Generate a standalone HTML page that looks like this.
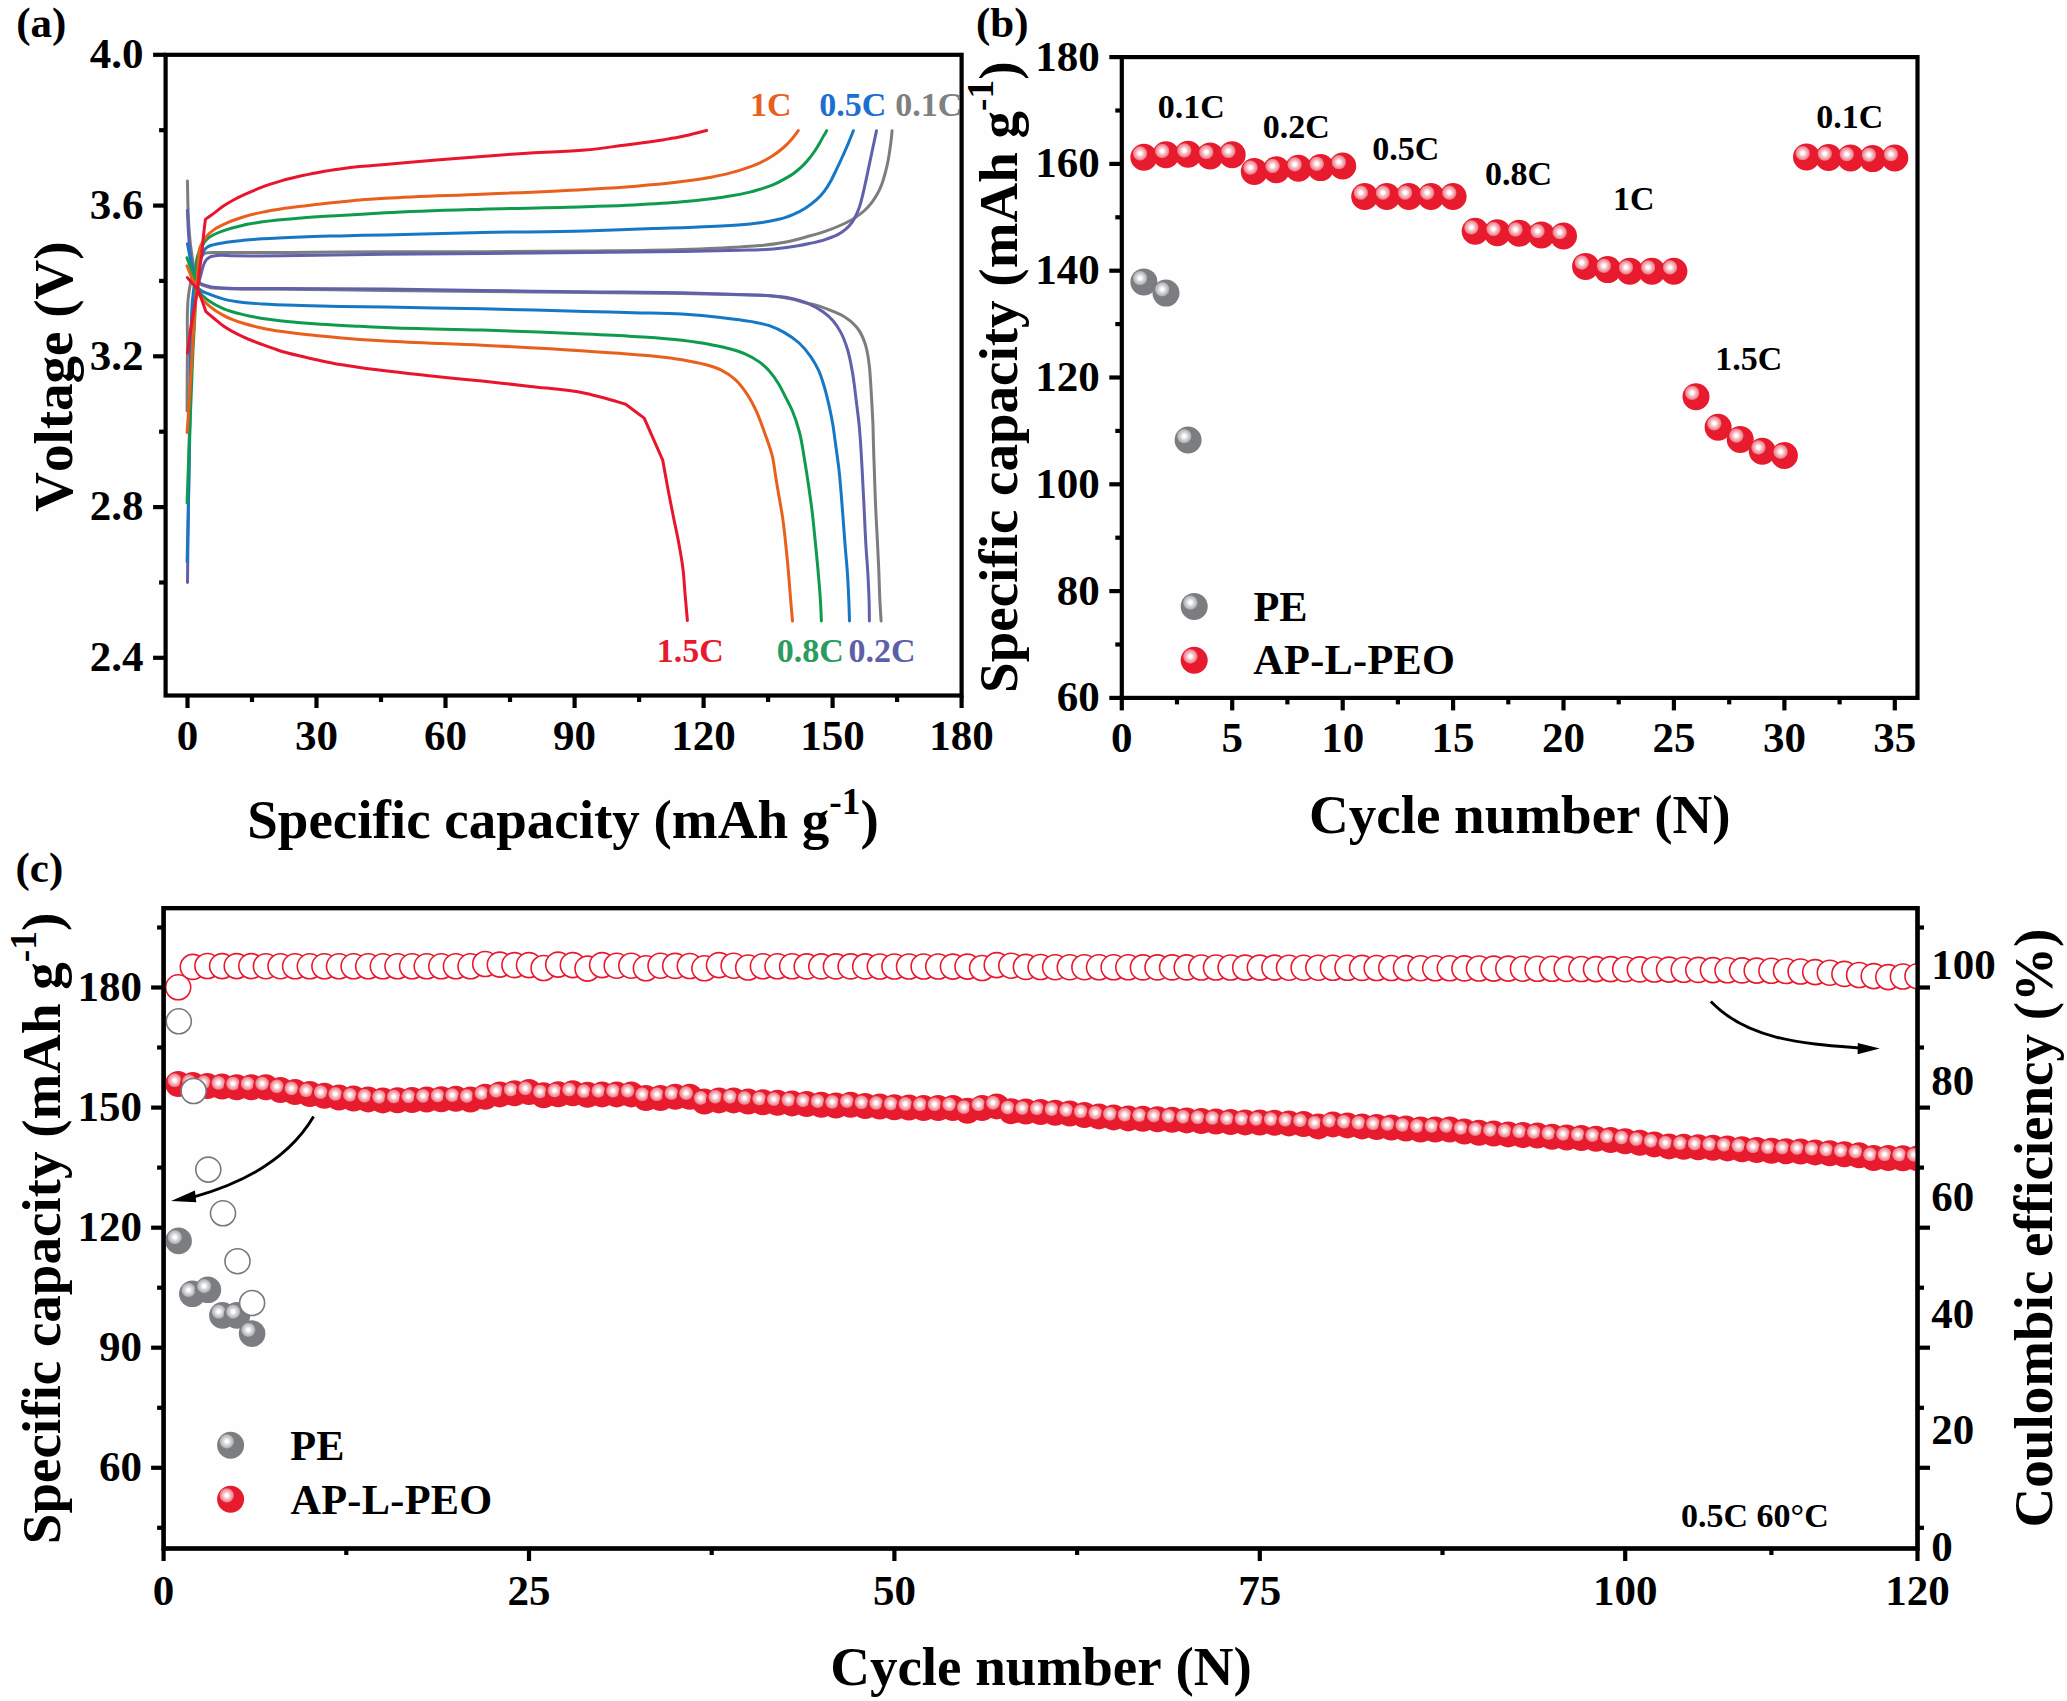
<!DOCTYPE html>
<html lang="en"><head><meta charset="utf-8"><title>Electrochemical performance</title>
<style>html,body{margin:0;padding:0;background:#fff;}svg{display:block;}text{font-family:"Liberation Serif", "DejaVu Serif", serif;font-weight:bold;font-kerning:none;font-variant-ligatures:none;}</style></head><body>
<svg width="2067" height="1701" viewBox="0 0 2067 1701" role="img" aria-label="Electrochemical performance figure">
<defs>
<radialGradient id="gr" cx="0.358" cy="0.358" r="0.275" fx="0.358" fy="0.358"><stop offset="0" stop-color="#ffffff"/><stop offset="0.20" stop-color="#ffffff"/><stop offset="0.38" stop-color="#f9d6da"/><stop offset="0.62" stop-color="#f4aab2"/><stop offset="0.86" stop-color="#ef8791"/><stop offset="0.97" stop-color="#ea4353"/><stop offset="1" stop-color="#e81a2d"/></radialGradient>
<radialGradient id="gg" cx="0.358" cy="0.358" r="0.275" fx="0.358" fy="0.358"><stop offset="0" stop-color="#ffffff"/><stop offset="0.20" stop-color="#ffffff"/><stop offset="0.38" stop-color="#e4e5e6"/><stop offset="0.62" stop-color="#cbcccd"/><stop offset="0.86" stop-color="#b3b5b7"/><stop offset="0.97" stop-color="#8f9193"/><stop offset="1" stop-color="#7b7d80"/></radialGradient>
<clipPath id="clipA"><rect x="165.6" y="54.8" width="793.9" height="640.7"/></clipPath>
<clipPath id="clipC"><rect x="163.6" y="908.1" width="1753.9" height="640.4"/></clipPath>
</defs>
<rect width="2067" height="1701" fill="#fefefe"/>
<g fill="none" stroke-width="3.0" stroke-linecap="round" stroke-linejoin="round">
<path stroke="#7d7d7f" d="M187.4 181.1C187.8 194.1 187.7 207.1 188.5 220.0C189.0 228.3 189.5 236.7 190.5 245.0C191.2 250.7 192.1 256.4 193.0 262.0C193.9 267.4 193.6 273.2 196.0 278.0C196.9 279.9 198.0 282.1 199.5 283.5C201.9 285.8 205.9 286.4 209.2 287.3C213.9 288.5 218.9 288.2 223.8 288.6C243.1 290.0 262.6 289.0 282.0 289.2C316.3 289.6 350.7 290.0 385.0 290.4C417.3 290.8 449.7 291.1 482.0 291.4C516.3 291.8 550.7 292.1 585.0 292.5C617.3 292.8 649.7 292.9 682.0 293.5C698.2 293.8 714.3 294.2 730.5 294.6C743.7 295.0 756.9 294.4 770.0 295.8C777.7 296.6 785.4 297.7 792.9 299.4C797.1 300.3 801.2 301.7 805.3 302.7C809.4 303.7 813.6 304.4 817.6 305.6C821.8 306.8 825.9 308.5 830.0 310.1C834.2 311.8 838.4 313.3 842.3 315.5C845.2 317.2 848.0 319.1 850.5 321.2C852.9 323.2 855.2 325.4 857.1 327.8C859.1 330.3 860.7 333.1 862.1 336.0C863.4 338.7 864.4 341.5 865.3 344.3C866.4 347.8 867.1 351.4 867.8 355.0C868.6 359.1 869.0 363.2 869.5 367.3C870.1 372.8 870.3 378.3 870.7 383.8C871.2 390.6 871.5 397.5 871.9 404.3C872.3 411.3 872.7 418.2 873.0 425.2C873.2 430.8 873.2 436.4 873.4 442.0C873.6 451.0 874.0 460.1 874.3 469.1C874.7 482.0 875.1 495.0 875.7 507.9C876.1 517.6 876.7 527.3 877.2 537.0C877.7 546.7 878.2 556.4 878.6 566.1C879.2 579.0 879.4 592.0 880.1 604.9C880.4 610.3 880.8 615.6 881.1 621.0"/>
<path stroke="#7d7d7f" d="M187.1 411.0C187.2 390.7 187.1 370.3 187.5 350.0C187.9 329.8 185.7 309.2 189.4 289.4C190.6 282.9 191.5 276.1 194.0 270.0C195.4 266.6 197.0 263.1 199.0 260.0C200.3 258.0 201.5 255.7 203.4 254.3C204.0 253.8 204.8 253.4 205.5 253.1C206.4 252.8 207.4 252.8 208.3 252.7C210.5 252.5 212.8 252.6 215.0 252.6C223.3 252.5 231.7 252.6 240.0 252.6C256.7 252.6 273.3 252.5 290.0 252.4C306.7 252.3 323.3 252.0 340.0 251.9C355.0 251.8 370.0 251.8 385.0 251.8C451.7 251.6 518.3 251.9 585.0 251.1C617.3 250.7 649.7 250.6 682.0 249.5C701.4 248.8 720.8 248.1 740.2 246.9C746.8 246.5 753.4 246.2 760.0 245.6C768.3 244.8 776.6 243.9 784.7 242.3C793.0 240.7 801.2 238.3 809.4 236.0C814.9 234.5 820.4 233.0 825.8 231.1C831.4 229.2 837.0 227.0 842.3 224.5C846.5 222.5 850.8 220.4 854.7 217.9C858.1 215.7 861.5 213.3 864.5 210.5C867.2 208.0 869.7 205.2 871.9 202.3C874.1 199.5 876.0 196.4 877.7 193.3C879.3 190.4 880.6 187.3 881.8 184.2C883.1 180.7 884.1 177.1 885.1 173.5C886.2 169.4 887.2 165.3 888.0 161.2C888.8 157.1 889.4 152.9 890.0 148.8C890.5 145.5 890.9 142.2 891.3 138.9C891.6 136.2 891.8 133.4 892.1 130.7"/>
<path stroke="#6160ab" d="M187.4 210.2C187.9 220.1 188.1 230.1 189.0 240.0C189.7 248.4 190.2 256.8 192.0 265.0C193.1 269.7 193.1 275.2 196.0 279.0C197.0 280.3 198.2 281.6 199.5 282.6C202.2 284.7 205.9 285.6 209.2 286.5C213.9 287.8 218.9 287.5 223.8 287.9C243.1 289.4 262.6 288.2 282.0 288.4C316.3 288.7 350.7 288.7 385.0 289.1C417.3 289.4 449.7 290.0 482.0 290.4C516.3 290.9 550.7 291.4 585.0 291.8C617.3 292.2 649.7 292.1 682.0 292.8C698.2 293.2 714.3 293.6 730.5 294.2C740.2 294.5 749.9 294.9 759.6 295.3C763.1 295.4 766.5 295.5 770.0 295.7C776.5 296.1 783.1 296.6 789.4 297.9C796.0 299.3 802.7 301.1 808.8 303.8C813.8 306.0 818.9 308.7 823.3 312.0C826.8 314.6 830.2 317.5 833.0 320.7C836.1 324.2 838.6 328.3 840.8 332.4C843.7 337.8 845.8 343.9 847.6 349.8C849.8 357.0 851.1 364.6 852.4 372.1C854.1 381.7 855.1 391.5 856.3 401.2C857.3 409.3 858.4 417.4 859.2 425.5C859.7 431.0 860.1 436.5 860.5 442.0C861.1 451.0 861.6 460.1 862.1 469.1C862.8 482.0 863.4 495.0 864.1 507.9C864.7 520.8 865.2 533.8 866.0 546.7C866.6 556.4 867.5 566.1 868.0 575.8C868.5 585.5 869.0 595.2 869.2 604.9C869.3 610.3 869.3 615.6 869.4 621.0"/>
<path stroke="#6160ab" d="M187.5 582.4C187.8 554.9 188.1 527.5 188.5 500.0C188.9 466.7 189.3 433.3 190.0 400.0C190.5 373.3 189.4 346.5 192.0 320.0C192.8 311.7 193.1 303.2 195.0 295.0C196.2 289.9 198.1 285.0 199.5 280.0C200.2 277.4 200.8 274.9 201.5 272.3C202.1 270.0 202.5 267.7 203.4 265.5C204.2 263.5 204.9 261.3 206.3 259.7C207.4 258.5 208.8 257.5 210.2 256.8C212.2 255.8 214.7 255.8 217.0 255.5C222.4 254.8 228.0 255.7 233.5 255.8C249.7 256.0 265.8 255.9 282.0 255.8C316.3 255.6 350.7 254.7 385.0 254.3C451.7 253.5 518.3 253.3 585.0 252.6C617.3 252.2 649.7 251.9 682.0 251.4C701.4 251.1 720.8 250.8 740.2 250.3C746.8 250.1 753.4 250.1 760.0 249.8C768.2 249.4 776.5 248.7 784.7 247.7C793.0 246.6 801.3 245.3 809.4 243.5C814.9 242.3 820.5 241.1 825.8 239.3C830.0 237.9 834.4 236.6 838.2 234.4C841.1 232.8 843.9 230.8 846.4 228.6C848.5 226.7 850.5 224.5 852.2 222.1C853.8 219.8 855.1 217.2 856.3 214.7C857.6 212.0 858.6 209.2 859.6 206.4C861.0 202.4 861.9 198.2 862.9 194.1C864.1 189.2 865.1 184.2 866.2 179.3C867.3 174.1 868.4 168.8 869.5 163.6C870.6 158.4 871.7 153.2 872.8 148.0C874.0 142.2 875.3 136.5 876.5 130.7"/>
<path stroke="#1677c4" d="M187.4 243.7C188.6 249.8 189.7 255.9 191.0 262.0C192.3 268.0 193.1 274.2 195.0 280.0C195.8 282.4 196.3 284.9 197.6 287.0C198.2 287.8 198.8 288.7 199.5 289.4C202.0 292.0 205.9 292.8 209.2 294.2C213.9 296.2 218.9 297.8 223.8 299.1C230.1 300.8 236.7 301.7 243.2 302.5C249.6 303.3 256.1 303.5 262.6 303.9C275.5 304.7 288.5 305.0 301.4 305.4C314.3 305.8 327.3 306.1 340.2 306.4C355.1 306.7 370.1 306.9 385.0 307.1C417.3 307.6 449.7 308.1 482.0 308.8C516.3 309.5 550.7 310.5 585.0 311.4C601.2 311.8 617.3 312.3 633.5 312.7C649.7 313.2 665.9 313.1 682.0 314.1C695.0 314.9 707.9 316.0 720.8 317.5C730.5 318.6 740.3 319.6 749.9 321.4C756.6 322.7 763.6 323.6 770.0 325.9C775.0 327.7 779.9 330.0 784.5 332.6C789.7 335.6 794.7 339.0 799.1 343.0C803.5 347.0 807.3 351.7 810.7 356.6C813.7 360.9 816.3 365.5 818.5 370.2C820.9 375.5 822.6 381.1 824.3 386.7C826.2 393.1 827.7 399.6 829.2 406.1C830.6 412.5 831.9 419.0 833.0 425.5C833.8 430.3 834.3 435.2 835.0 440.0C836.3 449.7 837.8 459.4 838.9 469.1C840.4 482.0 841.2 495.0 842.3 507.9C843.3 520.8 844.2 533.8 845.2 546.7C846.0 556.4 847.0 566.1 847.6 575.8C848.2 585.5 848.6 595.2 849.0 604.9C849.2 610.3 849.3 615.6 849.5 621.0"/>
<path stroke="#1677c4" d="M187.1 561.7C187.6 541.1 188.1 520.6 188.5 500.0C189.1 473.3 189.6 446.7 190.0 420.0C190.4 396.7 190.5 373.3 191.0 350.0C191.4 333.3 190.8 316.6 192.5 300.0C193.4 291.6 194.2 283.2 196.0 275.0C197.0 270.6 198.0 266.2 199.5 262.0C200.5 259.2 201.8 256.5 202.9 253.8C203.4 252.5 203.7 251.1 204.4 250.0C205.1 248.9 206.2 247.9 207.3 247.1C209.2 245.7 211.8 245.3 214.1 244.6C217.3 243.7 220.6 243.3 223.8 242.7C230.2 241.6 236.7 241.0 243.2 240.3C249.7 239.7 256.1 239.2 262.6 238.8C275.5 237.9 288.5 237.4 301.4 236.9C314.3 236.4 327.3 236.2 340.2 235.9C355.1 235.5 370.1 235.2 385.0 234.9C417.3 234.2 449.7 233.1 482.0 232.5C516.3 231.8 550.7 231.9 585.0 231.0C607.6 230.4 630.3 229.4 652.9 228.6C672.3 227.9 691.7 227.4 711.1 226.4C724.0 225.7 737.0 225.4 749.9 224.0C753.9 223.6 758.0 223.1 762.0 222.5C766.9 221.8 771.7 220.9 776.5 219.8C779.3 219.1 782.2 218.5 785.0 217.6C787.7 216.7 790.3 215.7 792.9 214.6C797.2 212.8 801.4 210.7 805.3 208.2C809.1 205.8 812.7 203.2 816.0 200.2C819.0 197.5 821.8 194.6 824.2 191.4C826.7 188.1 828.8 184.5 830.8 180.9C832.9 177.2 834.6 173.3 836.5 169.4C838.5 165.3 840.4 161.2 842.3 157.0C844.3 152.7 846.2 148.3 848.1 143.9C849.9 139.5 851.6 135.1 853.4 130.7"/>
<path stroke="#0f9b4e" d="M187.0 257.7C188.7 262.5 190.4 267.2 192.0 272.0C193.9 277.8 194.5 284.2 197.6 289.4C198.2 290.4 198.8 291.4 199.5 292.3C202.1 295.8 205.7 298.5 209.2 301.0C213.6 304.2 218.7 306.7 223.8 308.8C230.0 311.4 236.7 313.0 243.2 314.6C249.6 316.2 256.1 317.4 262.6 318.5C269.0 319.5 275.5 320.2 282.0 320.9C294.9 322.3 307.9 323.4 320.8 324.3C333.7 325.2 346.7 325.7 359.6 326.3C368.1 326.7 376.5 327.1 385.0 327.5C417.3 328.9 449.7 329.1 482.0 330.1C516.3 331.2 550.7 332.4 585.0 334.0C601.2 334.7 617.3 335.4 633.5 336.4C649.7 337.5 665.9 338.3 682.0 340.3C691.7 341.5 701.5 342.8 711.1 344.7C717.6 346.0 724.1 347.2 730.5 349.0C735.4 350.4 740.4 351.9 745.0 353.9C750.1 356.1 755.1 358.8 759.6 362.1C763.1 364.7 766.4 367.7 769.3 370.9C773.0 375.0 776.2 379.7 779.0 384.4C781.2 388.1 783.0 392.2 785.0 396.1C787.6 401.2 790.4 406.2 792.6 411.5C795.4 418.1 797.6 425.1 799.4 432.0C801.7 440.6 802.8 449.4 804.3 458.2C805.8 467.1 807.2 476.1 808.5 485.0C809.6 492.6 810.7 500.3 811.7 507.9C813.3 520.6 814.4 533.3 815.7 546.0C816.7 555.9 817.7 565.9 818.5 575.8C819.2 583.9 819.9 591.9 820.4 600.0C820.8 607.0 821.1 614.0 821.4 621.0"/>
<path stroke="#0f9b4e" d="M187.1 503.0C187.7 485.3 188.3 467.7 189.0 450.0C189.6 433.3 190.3 416.7 191.0 400.0C191.7 383.3 192.2 366.7 193.0 350.0C193.5 340.0 194.2 330.0 194.7 320.0C195.1 310.0 195.5 300.0 195.7 290.0C195.9 281.8 195.0 273.6 196.0 265.5C196.4 262.3 196.6 258.9 197.6 255.8C198.5 253.1 200.2 250.6 201.5 248.0C202.5 246.1 203.2 244.0 204.4 242.2C205.2 241.0 206.2 239.8 207.3 238.8C209.2 237.0 211.7 235.7 214.1 234.5C217.2 232.9 220.5 231.8 223.8 230.6C230.1 228.3 236.7 226.7 243.2 225.2C249.6 223.8 256.1 222.8 262.6 221.8C275.4 219.9 288.4 219.1 301.4 218.0C314.3 217.0 327.3 216.3 340.2 215.5C355.1 214.6 370.1 213.6 385.0 212.8C417.3 211.1 449.7 210.2 482.0 209.2C516.3 208.2 550.7 208.0 585.0 206.8C601.2 206.2 617.3 205.7 633.5 204.9C649.7 204.1 665.9 203.3 682.0 201.8C695.0 200.6 707.9 199.4 720.8 197.4C730.5 195.9 740.4 194.6 749.9 192.1C753.3 191.2 756.6 190.2 760.0 189.2C764.1 187.9 768.3 186.8 772.3 185.2C776.6 183.4 780.7 181.2 784.7 178.9C788.1 177.0 791.5 175.0 794.6 172.7C797.5 170.6 800.2 168.2 802.8 165.7C805.2 163.4 807.3 160.9 809.4 158.3C811.4 155.8 813.3 153.2 815.1 150.5C816.9 147.8 818.5 145.0 820.1 142.2C821.4 140.0 822.5 137.8 823.8 135.6C824.8 134.0 825.7 132.3 826.7 130.7"/>
<path stroke="#e9601c" d="M187.0 266.0C188.7 270.0 190.2 274.1 192.0 278.0C193.7 281.9 196.1 285.4 197.6 289.4C198.3 291.3 198.6 293.4 199.5 295.2C201.5 299.5 205.6 302.7 209.2 305.9C213.5 309.7 218.7 312.9 223.8 315.6C229.9 318.9 236.6 321.2 243.2 323.3C249.5 325.3 256.1 326.8 262.6 328.2C269.0 329.6 275.5 330.6 282.0 331.6C294.9 333.6 307.9 334.7 320.8 336.0C333.7 337.3 346.7 338.5 359.6 339.4C368.1 340.0 376.5 340.5 385.0 341.0C417.3 342.9 449.7 343.6 482.0 345.2C516.3 346.9 550.7 348.7 585.0 351.0C601.2 352.1 617.4 353.0 633.5 354.4C646.4 355.5 659.4 356.4 672.3 358.3C682.0 359.7 691.9 361.1 701.4 363.6C708.0 365.3 714.8 366.9 720.8 369.9C726.0 372.5 731.1 375.7 735.3 379.6C739.0 383.0 742.1 387.1 745.0 391.2C748.7 396.4 751.8 402.0 754.7 407.7C759.1 416.4 762.1 425.7 765.4 434.9C767.9 441.9 770.5 448.8 772.3 456.0C774.1 463.5 774.7 471.2 776.0 478.8C777.0 484.9 778.1 490.9 779.1 497.0C780.3 503.9 781.6 510.7 782.6 517.6C783.7 525.0 784.5 532.5 785.3 540.0C786.2 548.3 787.0 556.6 787.8 564.9C788.8 575.9 789.6 587.0 790.5 598.0C791.1 605.7 791.8 613.3 792.5 621.0"/>
<path stroke="#e9601c" d="M187.1 432.4C188.1 418.3 189.1 404.1 190.0 390.0C191.1 373.3 191.9 356.7 193.0 340.0C193.9 326.3 194.7 312.7 195.7 299.0C196.3 291.0 196.9 283.0 197.5 275.0C197.9 270.2 198.2 265.4 198.6 260.6C198.9 256.7 198.4 252.7 199.5 249.0C200.2 246.7 201.3 244.4 202.5 242.2C203.8 239.8 205.5 237.4 207.3 235.4C209.3 233.2 211.7 231.3 214.1 229.6C217.1 227.5 220.5 225.9 223.8 224.3C230.0 221.3 236.6 219.1 243.2 217.0C249.6 215.0 256.1 213.5 262.6 212.1C269.0 210.7 275.5 209.7 282.0 208.7C288.4 207.7 294.9 207.1 301.4 206.3C307.9 205.5 314.3 204.6 320.8 203.9C327.3 203.2 333.7 202.6 340.2 202.0C346.7 201.3 353.1 200.6 359.6 200.0C368.1 199.3 376.5 198.8 385.0 198.3C417.3 196.3 449.7 195.6 482.0 194.2C516.3 192.7 550.7 191.4 585.0 189.4C601.2 188.5 617.4 187.7 633.5 186.4C649.7 185.1 665.9 183.7 682.0 181.6C691.7 180.3 701.5 179.1 711.1 177.2C717.6 175.9 724.1 174.6 730.5 172.9C737.0 171.2 743.5 169.1 749.9 166.8C753.3 165.6 756.7 164.3 760.0 162.8C764.2 160.8 768.4 158.5 772.3 156.0C776.0 153.6 779.6 150.9 783.0 148.0C785.9 145.5 788.7 142.7 791.3 139.8C793.8 136.9 796.0 133.7 798.3 130.7"/>
<path stroke="#e8152d" d="M187.4 277.6C188.9 279.4 190.5 281.2 192.0 283.0C193.9 285.1 196.1 287.1 197.6 289.4C200.1 293.1 200.9 297.8 202.5 302.0C203.7 305.2 204.8 308.5 205.9 311.7C208.6 314.0 211.4 316.3 214.1 318.5C217.3 321.1 220.4 323.9 223.8 326.3C229.8 330.5 236.5 333.8 243.2 336.9C249.5 339.9 256.1 342.2 262.6 344.7C269.0 347.1 275.4 349.5 282.0 351.5C288.4 353.4 294.9 354.8 301.4 356.3C307.9 357.8 314.3 359.3 320.8 360.7C327.2 362.1 333.7 363.5 340.2 364.6C346.6 365.7 353.1 366.6 359.6 367.5C368.1 368.7 376.5 369.7 385.0 370.7C401.2 372.7 417.3 374.5 433.5 376.2C449.7 377.9 465.8 379.4 482.0 381.1C498.2 382.8 514.3 384.5 530.5 386.4C548.7 388.5 567.1 389.4 585.0 393.2C591.5 394.6 598.0 396.3 604.4 398.0C611.5 399.9 618.6 402.2 625.7 404.3C631.9 408.9 638.0 413.5 644.2 418.1C650.4 432.1 656.5 446.1 662.7 460.1C664.6 470.8 666.5 481.5 668.5 492.1C670.4 501.8 672.3 511.5 674.3 521.2C675.6 527.5 677.0 533.7 678.2 540.0C680.0 549.7 681.8 559.3 683.0 569.1C684.0 577.1 684.3 585.2 685.0 593.3C685.8 602.4 686.6 611.4 687.4 620.5"/>
<path stroke="#e8152d" d="M187.5 353.0C188.5 345.3 189.4 337.6 190.6 330.0C191.6 323.3 192.9 316.7 194.0 310.0C195.2 303.1 196.7 296.3 197.6 289.4C198.5 283.0 198.7 276.4 199.5 270.0C200.1 265.3 200.9 260.5 201.5 255.8C202.3 249.4 202.7 242.9 203.4 236.4C204.0 230.7 204.7 225.1 205.4 219.4C208.3 217.3 211.2 215.2 214.1 213.1C217.4 210.7 220.4 208.0 223.8 205.8C226.9 203.7 230.2 201.8 233.5 200.0C236.7 198.3 239.9 196.7 243.2 195.2C249.6 192.2 256.0 189.4 262.6 186.9C269.0 184.5 275.5 182.5 282.0 180.6C288.4 178.8 294.9 177.3 301.4 175.8C307.8 174.4 314.3 173.0 320.8 171.9C327.2 170.8 333.7 169.9 340.2 169.0C346.7 168.1 353.1 167.3 359.6 166.6C368.0 165.7 376.5 165.1 385.0 164.4C401.2 163.0 417.3 161.6 433.5 160.3C449.7 159.0 465.8 157.6 482.0 156.4C498.2 155.2 514.3 154.0 530.5 153.0C548.7 151.9 566.9 151.8 585.0 150.1C598.0 148.9 610.9 146.9 623.8 145.2C636.7 143.5 649.7 142.0 662.6 139.9C669.1 138.8 675.6 137.8 682.0 136.5C690.3 134.8 698.5 132.5 706.7 130.5"/>
</g>
<text x="750.0" y="115.6" font-size="34.0" text-anchor="start" fill="#e8601f">1C</text>
<text x="819.3" y="115.6" font-size="34.0" text-anchor="start" fill="#1b6fd0">0.5C</text>
<g clip-path="url(#clipA)">
<text x="895.2" y="115.6" font-size="34.0" text-anchor="start" fill="#808080">0.1C</text>
</g>
<text x="656.8" y="662.0" font-size="34.0" text-anchor="start" fill="#e8192f">1.5C</text>
<text x="776.8" y="662.0" font-size="34.0" text-anchor="start" fill="#2a9c5f">0.8C</text>
<text x="848.6" y="662.0" font-size="34.0" text-anchor="start" fill="#5d5fa8">0.2C</text>
<rect x="165.6" y="54.8" width="796.0" height="640.7" fill="none" stroke="#000" stroke-width="4.2"/>
<path d="M187.5 695.5L187.5 708.0" stroke="#000" stroke-width="4.2" fill="none"/>
<text x="187.5" y="750.4" font-size="43.0" text-anchor="middle" fill="#000">0</text>
<path d="M316.5 695.5L316.5 708.0" stroke="#000" stroke-width="4.2" fill="none"/>
<text x="316.5" y="750.4" font-size="43.0" text-anchor="middle" fill="#000">30</text>
<path d="M445.5 695.5L445.5 708.0" stroke="#000" stroke-width="4.2" fill="none"/>
<text x="445.5" y="750.4" font-size="43.0" text-anchor="middle" fill="#000">60</text>
<path d="M574.6 695.5L574.6 708.0" stroke="#000" stroke-width="4.2" fill="none"/>
<text x="574.6" y="750.4" font-size="43.0" text-anchor="middle" fill="#000">90</text>
<path d="M703.6 695.5L703.6 708.0" stroke="#000" stroke-width="4.2" fill="none"/>
<text x="703.6" y="750.4" font-size="43.0" text-anchor="middle" fill="#000">120</text>
<path d="M832.6 695.5L832.6 708.0" stroke="#000" stroke-width="4.2" fill="none"/>
<text x="832.6" y="750.4" font-size="43.0" text-anchor="middle" fill="#000">150</text>
<path d="M961.6 695.5L961.6 708.0" stroke="#000" stroke-width="4.2" fill="none"/>
<text x="961.6" y="750.4" font-size="43.0" text-anchor="middle" fill="#000">180</text>
<path d="M252.0 695.5L252.0 702.0" stroke="#000" stroke-width="4.2" fill="none"/>
<path d="M381.0 695.5L381.0 702.0" stroke="#000" stroke-width="4.2" fill="none"/>
<path d="M510.0 695.5L510.0 702.0" stroke="#000" stroke-width="4.2" fill="none"/>
<path d="M639.1 695.5L639.1 702.0" stroke="#000" stroke-width="4.2" fill="none"/>
<path d="M768.1 695.5L768.1 702.0" stroke="#000" stroke-width="4.2" fill="none"/>
<path d="M897.1 695.5L897.1 702.0" stroke="#000" stroke-width="4.2" fill="none"/>
<path d="M165.6 657.8L153.1 657.8" stroke="#000" stroke-width="4.2" fill="none"/>
<text x="143.6" y="671.1" font-size="43.0" text-anchor="end" fill="#000">2.4</text>
<path d="M165.6 507.1L153.1 507.1" stroke="#000" stroke-width="4.2" fill="none"/>
<text x="143.6" y="520.4" font-size="43.0" text-anchor="end" fill="#000">2.8</text>
<path d="M165.6 356.3L153.1 356.3" stroke="#000" stroke-width="4.2" fill="none"/>
<text x="143.6" y="369.6" font-size="43.0" text-anchor="end" fill="#000">3.2</text>
<path d="M165.6 205.6L153.1 205.6" stroke="#000" stroke-width="4.2" fill="none"/>
<text x="143.6" y="218.9" font-size="43.0" text-anchor="end" fill="#000">3.6</text>
<path d="M165.6 54.8L153.1 54.8" stroke="#000" stroke-width="4.2" fill="none"/>
<text x="143.6" y="68.1" font-size="43.0" text-anchor="end" fill="#000">4.0</text>
<path d="M165.6 582.5L159.1 582.5" stroke="#000" stroke-width="4.2" fill="none"/>
<path d="M165.6 431.7L159.1 431.7" stroke="#000" stroke-width="4.2" fill="none"/>
<path d="M165.6 280.9L159.1 280.9" stroke="#000" stroke-width="4.2" fill="none"/>
<path d="M165.6 130.2L159.1 130.2" stroke="#000" stroke-width="4.2" fill="none"/>
<text x="563.0" y="837.8" font-size="55.0" text-anchor="middle" fill="#000">Specific capacity (mAh g<tspan dy="-23.6" font-size="37.4">-1</tspan><tspan dy="23.6">)</tspan></text>
<g transform="translate(72.3 376.6) rotate(-90)">
<text x="0.0" y="0.0" font-size="55.0" text-anchor="middle" fill="#000">Voltage (V)</text>
</g>
<text x="16.2" y="37.1" font-size="43.0" text-anchor="start" fill="#000">(a)</text>
<rect x="1121.8" y="57.1" width="795.7" height="640.8" fill="none" stroke="#000" stroke-width="4.2"/>
<path d="M1121.8 697.9L1121.8 710.4" stroke="#000" stroke-width="4.2" fill="none"/>
<text x="1121.8" y="752.2" font-size="43.0" text-anchor="middle" fill="#000">0</text>
<path d="M1232.2 697.9L1232.2 710.4" stroke="#000" stroke-width="4.2" fill="none"/>
<text x="1232.2" y="752.2" font-size="43.0" text-anchor="middle" fill="#000">5</text>
<path d="M1342.7 697.9L1342.7 710.4" stroke="#000" stroke-width="4.2" fill="none"/>
<text x="1342.7" y="752.2" font-size="43.0" text-anchor="middle" fill="#000">10</text>
<path d="M1453.1 697.9L1453.1 710.4" stroke="#000" stroke-width="4.2" fill="none"/>
<text x="1453.1" y="752.2" font-size="43.0" text-anchor="middle" fill="#000">15</text>
<path d="M1563.5 697.9L1563.5 710.4" stroke="#000" stroke-width="4.2" fill="none"/>
<text x="1563.5" y="752.2" font-size="43.0" text-anchor="middle" fill="#000">20</text>
<path d="M1673.9 697.9L1673.9 710.4" stroke="#000" stroke-width="4.2" fill="none"/>
<text x="1673.9" y="752.2" font-size="43.0" text-anchor="middle" fill="#000">25</text>
<path d="M1784.4 697.9L1784.4 710.4" stroke="#000" stroke-width="4.2" fill="none"/>
<text x="1784.4" y="752.2" font-size="43.0" text-anchor="middle" fill="#000">30</text>
<path d="M1894.8 697.9L1894.8 710.4" stroke="#000" stroke-width="4.2" fill="none"/>
<text x="1894.8" y="752.2" font-size="43.0" text-anchor="middle" fill="#000">35</text>
<path d="M1177.0 697.9L1177.0 704.4" stroke="#000" stroke-width="4.2" fill="none"/>
<path d="M1287.4 697.9L1287.4 704.4" stroke="#000" stroke-width="4.2" fill="none"/>
<path d="M1397.9 697.9L1397.9 704.4" stroke="#000" stroke-width="4.2" fill="none"/>
<path d="M1508.3 697.9L1508.3 704.4" stroke="#000" stroke-width="4.2" fill="none"/>
<path d="M1618.7 697.9L1618.7 704.4" stroke="#000" stroke-width="4.2" fill="none"/>
<path d="M1729.2 697.9L1729.2 704.4" stroke="#000" stroke-width="4.2" fill="none"/>
<path d="M1839.6 697.9L1839.6 704.4" stroke="#000" stroke-width="4.2" fill="none"/>
<path d="M1121.8 697.9L1109.3 697.9" stroke="#000" stroke-width="4.2" fill="none"/>
<text x="1099.8" y="711.3" font-size="43.0" text-anchor="end" fill="#000">60</text>
<path d="M1121.8 591.1L1109.3 591.1" stroke="#000" stroke-width="4.2" fill="none"/>
<text x="1099.8" y="604.5" font-size="43.0" text-anchor="end" fill="#000">80</text>
<path d="M1121.8 484.3L1109.3 484.3" stroke="#000" stroke-width="4.2" fill="none"/>
<text x="1099.8" y="497.7" font-size="43.0" text-anchor="end" fill="#000">100</text>
<path d="M1121.8 377.5L1109.3 377.5" stroke="#000" stroke-width="4.2" fill="none"/>
<text x="1099.8" y="390.9" font-size="43.0" text-anchor="end" fill="#000">120</text>
<path d="M1121.8 270.7L1109.3 270.7" stroke="#000" stroke-width="4.2" fill="none"/>
<text x="1099.8" y="284.1" font-size="43.0" text-anchor="end" fill="#000">140</text>
<path d="M1121.8 163.9L1109.3 163.9" stroke="#000" stroke-width="4.2" fill="none"/>
<text x="1099.8" y="177.3" font-size="43.0" text-anchor="end" fill="#000">160</text>
<path d="M1121.8 57.1L1109.3 57.1" stroke="#000" stroke-width="4.2" fill="none"/>
<text x="1099.8" y="70.5" font-size="43.0" text-anchor="end" fill="#000">180</text>
<path d="M1121.8 644.5L1115.3 644.5" stroke="#000" stroke-width="4.2" fill="none"/>
<path d="M1121.8 537.7L1115.3 537.7" stroke="#000" stroke-width="4.2" fill="none"/>
<path d="M1121.8 430.9L1115.3 430.9" stroke="#000" stroke-width="4.2" fill="none"/>
<path d="M1121.8 324.1L1115.3 324.1" stroke="#000" stroke-width="4.2" fill="none"/>
<path d="M1121.8 217.3L1115.3 217.3" stroke="#000" stroke-width="4.2" fill="none"/>
<path d="M1121.8 110.5L1115.3 110.5" stroke="#000" stroke-width="4.2" fill="none"/>
<circle cx="1143.9" cy="281.9" r="13.5" fill="url(#gg)"/>
<circle cx="1166.0" cy="293.1" r="13.5" fill="url(#gg)"/>
<circle cx="1188.1" cy="440.0" r="13.5" fill="url(#gg)"/>
<circle cx="1143.9" cy="157.2" r="13.5" fill="url(#gr)"/>
<circle cx="1166.0" cy="154.8" r="13.5" fill="url(#gr)"/>
<circle cx="1188.1" cy="154.3" r="13.5" fill="url(#gr)"/>
<circle cx="1210.1" cy="155.9" r="13.5" fill="url(#gr)"/>
<circle cx="1232.2" cy="154.8" r="13.5" fill="url(#gr)"/>
<circle cx="1254.3" cy="171.4" r="13.5" fill="url(#gr)"/>
<circle cx="1276.4" cy="169.8" r="13.5" fill="url(#gr)"/>
<circle cx="1298.5" cy="168.2" r="13.5" fill="url(#gr)"/>
<circle cx="1320.6" cy="167.6" r="13.5" fill="url(#gr)"/>
<circle cx="1342.7" cy="166.0" r="13.5" fill="url(#gr)"/>
<circle cx="1364.7" cy="196.5" r="13.5" fill="url(#gr)"/>
<circle cx="1386.8" cy="196.5" r="13.5" fill="url(#gr)"/>
<circle cx="1408.9" cy="196.5" r="13.5" fill="url(#gr)"/>
<circle cx="1431.0" cy="196.5" r="13.5" fill="url(#gr)"/>
<circle cx="1453.1" cy="196.5" r="13.5" fill="url(#gr)"/>
<circle cx="1475.2" cy="231.2" r="13.5" fill="url(#gr)"/>
<circle cx="1497.3" cy="232.8" r="13.5" fill="url(#gr)"/>
<circle cx="1519.3" cy="233.3" r="13.5" fill="url(#gr)"/>
<circle cx="1541.4" cy="234.9" r="13.5" fill="url(#gr)"/>
<circle cx="1563.5" cy="236.0" r="13.5" fill="url(#gr)"/>
<circle cx="1585.6" cy="266.4" r="13.5" fill="url(#gr)"/>
<circle cx="1607.7" cy="269.6" r="13.5" fill="url(#gr)"/>
<circle cx="1629.8" cy="271.2" r="13.5" fill="url(#gr)"/>
<circle cx="1651.9" cy="271.2" r="13.5" fill="url(#gr)"/>
<circle cx="1673.9" cy="271.2" r="13.5" fill="url(#gr)"/>
<circle cx="1696.0" cy="396.7" r="13.5" fill="url(#gr)"/>
<circle cx="1718.1" cy="427.2" r="13.5" fill="url(#gr)"/>
<circle cx="1740.2" cy="439.4" r="13.5" fill="url(#gr)"/>
<circle cx="1762.3" cy="451.2" r="13.5" fill="url(#gr)"/>
<circle cx="1784.4" cy="455.5" r="13.5" fill="url(#gr)"/>
<circle cx="1806.5" cy="157.0" r="13.5" fill="url(#gr)"/>
<circle cx="1828.6" cy="157.5" r="13.5" fill="url(#gr)"/>
<circle cx="1850.6" cy="158.0" r="13.5" fill="url(#gr)"/>
<circle cx="1872.7" cy="158.6" r="13.5" fill="url(#gr)"/>
<circle cx="1894.8" cy="158.0" r="13.5" fill="url(#gr)"/>
<circle cx="1194.2" cy="606.4" r="13.5" fill="url(#gg)"/>
<circle cx="1194.2" cy="660.2" r="13.5" fill="url(#gr)"/>
<text x="1253.4" y="620.6" font-size="42.3" text-anchor="start" fill="#000">PE</text>
<text x="1253.2" y="674.4" font-size="42.3" text-anchor="start" fill="#000" letter-spacing="0.3">AP-L-PEO</text>
<text x="1157.8" y="118.4" font-size="34.0" text-anchor="start" fill="#000">0.1C</text>
<text x="1262.8" y="138.3" font-size="34.0" text-anchor="start" fill="#000">0.2C</text>
<text x="1372.2" y="159.6" font-size="34.0" text-anchor="start" fill="#000">0.5C</text>
<text x="1485.0" y="185.2" font-size="34.0" text-anchor="start" fill="#000">0.8C</text>
<text x="1612.9" y="209.9" font-size="34.0" text-anchor="start" fill="#000">1C</text>
<text x="1715.3" y="369.6" font-size="34.0" text-anchor="start" fill="#000">1.5C</text>
<text x="1816.3" y="128.3" font-size="34.0" text-anchor="start" fill="#000">0.1C</text>
<text x="1519.8" y="832.7" font-size="55.0" text-anchor="middle" fill="#000">Cycle number (N)</text>
<g transform="translate(1016.6 377.2) rotate(-90)">
<text x="0.0" y="0.0" font-size="55.0" text-anchor="middle" fill="#000">Specific capacity (mAh g<tspan dy="-23.6" font-size="37.4">-1</tspan><tspan dy="23.6">)</tspan></text>
</g>
<text x="976.0" y="36.7" font-size="43.0" text-anchor="start" fill="#000">(b)</text>
<rect x="163.6" y="908.1" width="1753.9" height="640.4" fill="none" stroke="#000" stroke-width="4.2"/>
<path d="M163.6 1548.5L163.6 1561.0" stroke="#000" stroke-width="4.2" fill="none"/>
<text x="163.6" y="1605.2" font-size="43.0" text-anchor="middle" fill="#000">0</text>
<path d="M529.0 1548.5L529.0 1561.0" stroke="#000" stroke-width="4.2" fill="none"/>
<text x="529.0" y="1605.2" font-size="43.0" text-anchor="middle" fill="#000">25</text>
<path d="M894.4 1548.5L894.4 1561.0" stroke="#000" stroke-width="4.2" fill="none"/>
<text x="894.4" y="1605.2" font-size="43.0" text-anchor="middle" fill="#000">50</text>
<path d="M1259.8 1548.5L1259.8 1561.0" stroke="#000" stroke-width="4.2" fill="none"/>
<text x="1259.8" y="1605.2" font-size="43.0" text-anchor="middle" fill="#000">75</text>
<path d="M1625.2 1548.5L1625.2 1561.0" stroke="#000" stroke-width="4.2" fill="none"/>
<text x="1625.2" y="1605.2" font-size="43.0" text-anchor="middle" fill="#000">100</text>
<path d="M1917.5 1548.5L1917.5 1561.0" stroke="#000" stroke-width="4.2" fill="none"/>
<text x="1917.5" y="1605.2" font-size="43.0" text-anchor="middle" fill="#000">120</text>
<path d="M346.3 1548.5L346.3 1555.0" stroke="#000" stroke-width="4.2" fill="none"/>
<path d="M711.7 1548.5L711.7 1555.0" stroke="#000" stroke-width="4.2" fill="none"/>
<path d="M1077.1 1548.5L1077.1 1555.0" stroke="#000" stroke-width="4.2" fill="none"/>
<path d="M1442.5 1548.5L1442.5 1555.0" stroke="#000" stroke-width="4.2" fill="none"/>
<path d="M1771.4 1548.5L1771.4 1555.0" stroke="#000" stroke-width="4.2" fill="none"/>
<path d="M163.6 1467.8L151.1 1467.8" stroke="#000" stroke-width="4.2" fill="none"/>
<path d="M1917.5 1467.8L1930.0 1467.8" stroke="#000" stroke-width="4.2" fill="none"/>
<text x="142.0" y="1481.2" font-size="43.0" text-anchor="end" fill="#000">60</text>
<path d="M163.6 1347.7L151.1 1347.7" stroke="#000" stroke-width="4.2" fill="none"/>
<path d="M1917.5 1347.7L1930.0 1347.7" stroke="#000" stroke-width="4.2" fill="none"/>
<text x="142.0" y="1361.1" font-size="43.0" text-anchor="end" fill="#000">90</text>
<path d="M163.6 1227.7L151.1 1227.7" stroke="#000" stroke-width="4.2" fill="none"/>
<path d="M1917.5 1227.7L1930.0 1227.7" stroke="#000" stroke-width="4.2" fill="none"/>
<text x="142.0" y="1241.1" font-size="43.0" text-anchor="end" fill="#000">120</text>
<path d="M163.6 1107.6L151.1 1107.6" stroke="#000" stroke-width="4.2" fill="none"/>
<path d="M1917.5 1107.6L1930.0 1107.6" stroke="#000" stroke-width="4.2" fill="none"/>
<text x="142.0" y="1121.0" font-size="43.0" text-anchor="end" fill="#000">150</text>
<path d="M163.6 987.5L151.1 987.5" stroke="#000" stroke-width="4.2" fill="none"/>
<path d="M1917.5 987.5L1930.0 987.5" stroke="#000" stroke-width="4.2" fill="none"/>
<text x="142.0" y="1000.9" font-size="43.0" text-anchor="end" fill="#000">180</text>
<path d="M163.6 1527.8L157.1 1527.8" stroke="#000" stroke-width="4.2" fill="none"/>
<path d="M1917.5 1527.8L1924.0 1527.8" stroke="#000" stroke-width="4.2" fill="none"/>
<path d="M163.6 1407.8L157.1 1407.8" stroke="#000" stroke-width="4.2" fill="none"/>
<path d="M1917.5 1407.8L1924.0 1407.8" stroke="#000" stroke-width="4.2" fill="none"/>
<path d="M163.6 1287.7L157.1 1287.7" stroke="#000" stroke-width="4.2" fill="none"/>
<path d="M1917.5 1287.7L1924.0 1287.7" stroke="#000" stroke-width="4.2" fill="none"/>
<path d="M163.6 1167.6L157.1 1167.6" stroke="#000" stroke-width="4.2" fill="none"/>
<path d="M1917.5 1167.6L1924.0 1167.6" stroke="#000" stroke-width="4.2" fill="none"/>
<path d="M163.6 1047.5L157.1 1047.5" stroke="#000" stroke-width="4.2" fill="none"/>
<path d="M1917.5 1047.5L1924.0 1047.5" stroke="#000" stroke-width="4.2" fill="none"/>
<path d="M163.6 927.5L157.1 927.5" stroke="#000" stroke-width="4.2" fill="none"/>
<path d="M1917.5 927.5L1924.0 927.5" stroke="#000" stroke-width="4.2" fill="none"/>
<text x="1931.2" y="1560.7" font-size="43.0" text-anchor="start" fill="#000">0</text>
<text x="1931.2" y="1444.3" font-size="43.0" text-anchor="start" fill="#000">20</text>
<text x="1931.2" y="1327.8" font-size="43.0" text-anchor="start" fill="#000">40</text>
<text x="1931.2" y="1211.4" font-size="43.0" text-anchor="start" fill="#000">60</text>
<text x="1931.2" y="1094.9" font-size="43.0" text-anchor="start" fill="#000">80</text>
<text x="1931.2" y="978.5" font-size="43.0" text-anchor="start" fill="#000">100</text>
<g clip-path="url(#clipC)">
<circle cx="178.2" cy="1084.0" r="13.0" fill="url(#gr)"/>
<circle cx="192.8" cy="1085.0" r="13.0" fill="url(#gr)"/>
<circle cx="207.4" cy="1086.0" r="13.0" fill="url(#gr)"/>
<circle cx="222.1" cy="1086.6" r="13.0" fill="url(#gr)"/>
<circle cx="236.7" cy="1087.2" r="13.0" fill="url(#gr)"/>
<circle cx="251.3" cy="1087.2" r="13.0" fill="url(#gr)"/>
<circle cx="265.9" cy="1087.2" r="13.0" fill="url(#gr)"/>
<circle cx="280.5" cy="1090.0" r="13.0" fill="url(#gr)"/>
<circle cx="295.1" cy="1092.0" r="13.0" fill="url(#gr)"/>
<circle cx="309.8" cy="1094.0" r="13.0" fill="url(#gr)"/>
<circle cx="324.4" cy="1095.8" r="13.0" fill="url(#gr)"/>
<circle cx="339.0" cy="1097.6" r="13.0" fill="url(#gr)"/>
<circle cx="353.6" cy="1098.5" r="13.0" fill="url(#gr)"/>
<circle cx="368.2" cy="1099.4" r="13.0" fill="url(#gr)"/>
<circle cx="382.8" cy="1100.4" r="13.0" fill="url(#gr)"/>
<circle cx="397.5" cy="1100.2" r="13.0" fill="url(#gr)"/>
<circle cx="412.1" cy="1100.0" r="13.0" fill="url(#gr)"/>
<circle cx="426.7" cy="1099.6" r="13.0" fill="url(#gr)"/>
<circle cx="441.3" cy="1099.2" r="13.0" fill="url(#gr)"/>
<circle cx="455.9" cy="1098.8" r="13.0" fill="url(#gr)"/>
<circle cx="470.5" cy="1099.6" r="13.0" fill="url(#gr)"/>
<circle cx="485.2" cy="1096.8" r="13.0" fill="url(#gr)"/>
<circle cx="499.8" cy="1094.4" r="13.0" fill="url(#gr)"/>
<circle cx="514.4" cy="1093.2" r="13.0" fill="url(#gr)"/>
<circle cx="529.0" cy="1092.0" r="13.0" fill="url(#gr)"/>
<circle cx="543.6" cy="1095.2" r="13.0" fill="url(#gr)"/>
<circle cx="558.2" cy="1094.2" r="13.0" fill="url(#gr)"/>
<circle cx="572.8" cy="1093.2" r="13.0" fill="url(#gr)"/>
<circle cx="587.5" cy="1094.8" r="13.0" fill="url(#gr)"/>
<circle cx="602.1" cy="1094.4" r="13.0" fill="url(#gr)"/>
<circle cx="616.7" cy="1094.4" r="13.0" fill="url(#gr)"/>
<circle cx="631.3" cy="1094.4" r="13.0" fill="url(#gr)"/>
<circle cx="645.9" cy="1098.0" r="13.0" fill="url(#gr)"/>
<circle cx="660.5" cy="1098.0" r="13.0" fill="url(#gr)"/>
<circle cx="675.2" cy="1096.8" r="13.0" fill="url(#gr)"/>
<circle cx="689.8" cy="1096.8" r="13.0" fill="url(#gr)"/>
<circle cx="704.4" cy="1101.6" r="13.0" fill="url(#gr)"/>
<circle cx="719.0" cy="1100.4" r="13.0" fill="url(#gr)"/>
<circle cx="733.6" cy="1100.4" r="13.0" fill="url(#gr)"/>
<circle cx="748.2" cy="1101.6" r="13.0" fill="url(#gr)"/>
<circle cx="762.9" cy="1102.2" r="13.0" fill="url(#gr)"/>
<circle cx="777.5" cy="1102.8" r="13.0" fill="url(#gr)"/>
<circle cx="792.1" cy="1103.4" r="13.0" fill="url(#gr)"/>
<circle cx="806.7" cy="1104.0" r="13.0" fill="url(#gr)"/>
<circle cx="821.3" cy="1104.8" r="13.0" fill="url(#gr)"/>
<circle cx="835.9" cy="1105.6" r="13.0" fill="url(#gr)"/>
<circle cx="850.6" cy="1104.8" r="13.0" fill="url(#gr)"/>
<circle cx="865.2" cy="1106.0" r="13.0" fill="url(#gr)"/>
<circle cx="879.8" cy="1106.6" r="13.0" fill="url(#gr)"/>
<circle cx="894.4" cy="1107.2" r="13.0" fill="url(#gr)"/>
<circle cx="909.0" cy="1107.6" r="13.0" fill="url(#gr)"/>
<circle cx="923.6" cy="1108.0" r="13.0" fill="url(#gr)"/>
<circle cx="938.2" cy="1108.0" r="13.0" fill="url(#gr)"/>
<circle cx="952.9" cy="1108.0" r="13.0" fill="url(#gr)"/>
<circle cx="967.5" cy="1110.8" r="13.0" fill="url(#gr)"/>
<circle cx="982.1" cy="1108.0" r="13.0" fill="url(#gr)"/>
<circle cx="996.7" cy="1106.4" r="13.0" fill="url(#gr)"/>
<circle cx="1011.3" cy="1111.2" r="13.0" fill="url(#gr)"/>
<circle cx="1025.9" cy="1111.6" r="13.0" fill="url(#gr)"/>
<circle cx="1040.6" cy="1112.0" r="13.0" fill="url(#gr)"/>
<circle cx="1055.2" cy="1112.8" r="13.0" fill="url(#gr)"/>
<circle cx="1069.8" cy="1113.6" r="13.0" fill="url(#gr)"/>
<circle cx="1084.4" cy="1115.0" r="13.0" fill="url(#gr)"/>
<circle cx="1099.0" cy="1116.4" r="13.0" fill="url(#gr)"/>
<circle cx="1113.6" cy="1117.4" r="13.0" fill="url(#gr)"/>
<circle cx="1128.3" cy="1118.4" r="13.0" fill="url(#gr)"/>
<circle cx="1142.9" cy="1118.8" r="13.0" fill="url(#gr)"/>
<circle cx="1157.5" cy="1119.2" r="13.0" fill="url(#gr)"/>
<circle cx="1172.1" cy="1119.8" r="13.0" fill="url(#gr)"/>
<circle cx="1186.7" cy="1120.4" r="13.0" fill="url(#gr)"/>
<circle cx="1201.3" cy="1121.0" r="13.0" fill="url(#gr)"/>
<circle cx="1216.0" cy="1121.6" r="13.0" fill="url(#gr)"/>
<circle cx="1230.6" cy="1122.0" r="13.0" fill="url(#gr)"/>
<circle cx="1245.2" cy="1122.4" r="13.0" fill="url(#gr)"/>
<circle cx="1259.8" cy="1122.6" r="13.0" fill="url(#gr)"/>
<circle cx="1274.4" cy="1122.8" r="13.0" fill="url(#gr)"/>
<circle cx="1289.0" cy="1123.4" r="13.0" fill="url(#gr)"/>
<circle cx="1303.6" cy="1124.0" r="13.0" fill="url(#gr)"/>
<circle cx="1318.3" cy="1126.4" r="13.0" fill="url(#gr)"/>
<circle cx="1332.9" cy="1124.4" r="13.0" fill="url(#gr)"/>
<circle cx="1347.5" cy="1125.4" r="13.0" fill="url(#gr)"/>
<circle cx="1362.1" cy="1126.4" r="13.0" fill="url(#gr)"/>
<circle cx="1376.7" cy="1127.0" r="13.0" fill="url(#gr)"/>
<circle cx="1391.3" cy="1127.6" r="13.0" fill="url(#gr)"/>
<circle cx="1406.0" cy="1128.6" r="13.0" fill="url(#gr)"/>
<circle cx="1420.6" cy="1129.6" r="13.0" fill="url(#gr)"/>
<circle cx="1435.2" cy="1129.6" r="13.0" fill="url(#gr)"/>
<circle cx="1449.8" cy="1129.6" r="13.0" fill="url(#gr)"/>
<circle cx="1464.4" cy="1131.6" r="13.0" fill="url(#gr)"/>
<circle cx="1479.0" cy="1132.8" r="13.0" fill="url(#gr)"/>
<circle cx="1493.7" cy="1133.6" r="13.0" fill="url(#gr)"/>
<circle cx="1508.3" cy="1134.4" r="13.0" fill="url(#gr)"/>
<circle cx="1522.9" cy="1135.0" r="13.0" fill="url(#gr)"/>
<circle cx="1537.5" cy="1135.6" r="13.0" fill="url(#gr)"/>
<circle cx="1552.1" cy="1136.8" r="13.0" fill="url(#gr)"/>
<circle cx="1566.7" cy="1137.5" r="13.0" fill="url(#gr)"/>
<circle cx="1581.4" cy="1138.1" r="13.0" fill="url(#gr)"/>
<circle cx="1596.0" cy="1138.8" r="13.0" fill="url(#gr)"/>
<circle cx="1610.6" cy="1140.0" r="13.0" fill="url(#gr)"/>
<circle cx="1625.2" cy="1141.2" r="13.0" fill="url(#gr)"/>
<circle cx="1639.8" cy="1142.8" r="13.0" fill="url(#gr)"/>
<circle cx="1654.4" cy="1144.4" r="13.0" fill="url(#gr)"/>
<circle cx="1669.0" cy="1146.4" r="13.0" fill="url(#gr)"/>
<circle cx="1683.7" cy="1146.8" r="13.0" fill="url(#gr)"/>
<circle cx="1698.3" cy="1147.2" r="13.0" fill="url(#gr)"/>
<circle cx="1712.9" cy="1147.8" r="13.0" fill="url(#gr)"/>
<circle cx="1727.5" cy="1148.4" r="13.0" fill="url(#gr)"/>
<circle cx="1742.1" cy="1149.2" r="13.0" fill="url(#gr)"/>
<circle cx="1756.7" cy="1150.0" r="13.0" fill="url(#gr)"/>
<circle cx="1771.4" cy="1150.8" r="13.0" fill="url(#gr)"/>
<circle cx="1786.0" cy="1151.2" r="13.0" fill="url(#gr)"/>
<circle cx="1800.6" cy="1151.6" r="13.0" fill="url(#gr)"/>
<circle cx="1815.2" cy="1152.4" r="13.0" fill="url(#gr)"/>
<circle cx="1829.8" cy="1153.2" r="13.0" fill="url(#gr)"/>
<circle cx="1844.4" cy="1154.2" r="13.0" fill="url(#gr)"/>
<circle cx="1859.1" cy="1155.2" r="13.0" fill="url(#gr)"/>
<circle cx="1873.7" cy="1158.0" r="13.0" fill="url(#gr)"/>
<circle cx="1888.3" cy="1158.0" r="13.0" fill="url(#gr)"/>
<circle cx="1902.9" cy="1158.2" r="13.0" fill="url(#gr)"/>
<circle cx="1917.5" cy="1158.4" r="13.0" fill="url(#gr)"/>
<circle cx="178.2" cy="987.3" r="12.5" fill="#fff" stroke="#e8192e" stroke-width="1.6"/>
<circle cx="192.8" cy="966.9" r="12.5" fill="#fff" stroke="#e8192e" stroke-width="1.6"/>
<circle cx="207.4" cy="966.0" r="12.5" fill="#fff" stroke="#e8192e" stroke-width="1.6"/>
<circle cx="222.1" cy="966.1" r="12.5" fill="#fff" stroke="#e8192e" stroke-width="1.6"/>
<circle cx="236.7" cy="966.1" r="12.5" fill="#fff" stroke="#e8192e" stroke-width="1.6"/>
<circle cx="251.3" cy="966.1" r="12.5" fill="#fff" stroke="#e8192e" stroke-width="1.6"/>
<circle cx="265.9" cy="966.2" r="12.5" fill="#fff" stroke="#e8192e" stroke-width="1.6"/>
<circle cx="280.5" cy="966.2" r="12.5" fill="#fff" stroke="#e8192e" stroke-width="1.6"/>
<circle cx="295.1" cy="966.3" r="12.5" fill="#fff" stroke="#e8192e" stroke-width="1.6"/>
<circle cx="309.8" cy="966.3" r="12.5" fill="#fff" stroke="#e8192e" stroke-width="1.6"/>
<circle cx="324.4" cy="966.3" r="12.5" fill="#fff" stroke="#e8192e" stroke-width="1.6"/>
<circle cx="339.0" cy="966.3" r="12.5" fill="#fff" stroke="#e8192e" stroke-width="1.6"/>
<circle cx="353.6" cy="966.3" r="12.5" fill="#fff" stroke="#e8192e" stroke-width="1.6"/>
<circle cx="368.2" cy="966.3" r="12.5" fill="#fff" stroke="#e8192e" stroke-width="1.6"/>
<circle cx="382.8" cy="966.3" r="12.5" fill="#fff" stroke="#e8192e" stroke-width="1.6"/>
<circle cx="397.5" cy="966.3" r="12.5" fill="#fff" stroke="#e8192e" stroke-width="1.6"/>
<circle cx="412.1" cy="966.3" r="12.5" fill="#fff" stroke="#e8192e" stroke-width="1.6"/>
<circle cx="426.7" cy="966.3" r="12.5" fill="#fff" stroke="#e8192e" stroke-width="1.6"/>
<circle cx="441.3" cy="966.3" r="12.5" fill="#fff" stroke="#e8192e" stroke-width="1.6"/>
<circle cx="455.9" cy="966.3" r="12.5" fill="#fff" stroke="#e8192e" stroke-width="1.6"/>
<circle cx="470.5" cy="966.3" r="12.5" fill="#fff" stroke="#e8192e" stroke-width="1.6"/>
<circle cx="485.2" cy="964.0" r="12.5" fill="#fff" stroke="#e8192e" stroke-width="1.6"/>
<circle cx="499.8" cy="964.6" r="12.5" fill="#fff" stroke="#e8192e" stroke-width="1.6"/>
<circle cx="514.4" cy="965.1" r="12.5" fill="#fff" stroke="#e8192e" stroke-width="1.6"/>
<circle cx="529.0" cy="965.1" r="12.5" fill="#fff" stroke="#e8192e" stroke-width="1.6"/>
<circle cx="543.6" cy="968.0" r="12.5" fill="#fff" stroke="#e8192e" stroke-width="1.6"/>
<circle cx="558.2" cy="964.6" r="12.5" fill="#fff" stroke="#e8192e" stroke-width="1.6"/>
<circle cx="572.8" cy="965.1" r="12.5" fill="#fff" stroke="#e8192e" stroke-width="1.6"/>
<circle cx="587.5" cy="968.6" r="12.5" fill="#fff" stroke="#e8192e" stroke-width="1.6"/>
<circle cx="602.1" cy="965.1" r="12.5" fill="#fff" stroke="#e8192e" stroke-width="1.6"/>
<circle cx="616.7" cy="965.7" r="12.5" fill="#fff" stroke="#e8192e" stroke-width="1.6"/>
<circle cx="631.3" cy="965.7" r="12.5" fill="#fff" stroke="#e8192e" stroke-width="1.6"/>
<circle cx="645.9" cy="968.3" r="12.5" fill="#fff" stroke="#e8192e" stroke-width="1.6"/>
<circle cx="660.5" cy="965.7" r="12.5" fill="#fff" stroke="#e8192e" stroke-width="1.6"/>
<circle cx="675.2" cy="965.9" r="12.5" fill="#fff" stroke="#e8192e" stroke-width="1.6"/>
<circle cx="689.8" cy="966.0" r="12.5" fill="#fff" stroke="#e8192e" stroke-width="1.6"/>
<circle cx="704.4" cy="968.3" r="12.5" fill="#fff" stroke="#e8192e" stroke-width="1.6"/>
<circle cx="719.0" cy="965.1" r="12.5" fill="#fff" stroke="#e8192e" stroke-width="1.6"/>
<circle cx="733.6" cy="965.7" r="12.5" fill="#fff" stroke="#e8192e" stroke-width="1.6"/>
<circle cx="748.2" cy="967.5" r="12.5" fill="#fff" stroke="#e8192e" stroke-width="1.6"/>
<circle cx="762.9" cy="966.3" r="12.5" fill="#fff" stroke="#e8192e" stroke-width="1.6"/>
<circle cx="777.5" cy="966.3" r="12.5" fill="#fff" stroke="#e8192e" stroke-width="1.6"/>
<circle cx="792.1" cy="966.3" r="12.5" fill="#fff" stroke="#e8192e" stroke-width="1.6"/>
<circle cx="806.7" cy="966.4" r="12.5" fill="#fff" stroke="#e8192e" stroke-width="1.6"/>
<circle cx="821.3" cy="966.4" r="12.5" fill="#fff" stroke="#e8192e" stroke-width="1.6"/>
<circle cx="835.9" cy="966.4" r="12.5" fill="#fff" stroke="#e8192e" stroke-width="1.6"/>
<circle cx="850.6" cy="966.4" r="12.5" fill="#fff" stroke="#e8192e" stroke-width="1.6"/>
<circle cx="865.2" cy="966.4" r="12.5" fill="#fff" stroke="#e8192e" stroke-width="1.6"/>
<circle cx="879.8" cy="966.5" r="12.5" fill="#fff" stroke="#e8192e" stroke-width="1.6"/>
<circle cx="894.4" cy="966.5" r="12.5" fill="#fff" stroke="#e8192e" stroke-width="1.6"/>
<circle cx="909.0" cy="966.5" r="12.5" fill="#fff" stroke="#e8192e" stroke-width="1.6"/>
<circle cx="923.6" cy="966.5" r="12.5" fill="#fff" stroke="#e8192e" stroke-width="1.6"/>
<circle cx="938.2" cy="966.5" r="12.5" fill="#fff" stroke="#e8192e" stroke-width="1.6"/>
<circle cx="952.9" cy="966.6" r="12.5" fill="#fff" stroke="#e8192e" stroke-width="1.6"/>
<circle cx="967.5" cy="966.6" r="12.5" fill="#fff" stroke="#e8192e" stroke-width="1.6"/>
<circle cx="982.1" cy="968.0" r="12.5" fill="#fff" stroke="#e8192e" stroke-width="1.6"/>
<circle cx="996.7" cy="965.1" r="12.5" fill="#fff" stroke="#e8192e" stroke-width="1.6"/>
<circle cx="1011.3" cy="965.7" r="12.5" fill="#fff" stroke="#e8192e" stroke-width="1.6"/>
<circle cx="1025.9" cy="966.9" r="12.5" fill="#fff" stroke="#e8192e" stroke-width="1.6"/>
<circle cx="1040.6" cy="967.0" r="12.5" fill="#fff" stroke="#e8192e" stroke-width="1.6"/>
<circle cx="1055.2" cy="967.2" r="12.5" fill="#fff" stroke="#e8192e" stroke-width="1.6"/>
<circle cx="1069.8" cy="967.2" r="12.5" fill="#fff" stroke="#e8192e" stroke-width="1.6"/>
<circle cx="1084.4" cy="967.2" r="12.5" fill="#fff" stroke="#e8192e" stroke-width="1.6"/>
<circle cx="1099.0" cy="967.3" r="12.5" fill="#fff" stroke="#e8192e" stroke-width="1.6"/>
<circle cx="1113.6" cy="967.3" r="12.5" fill="#fff" stroke="#e8192e" stroke-width="1.6"/>
<circle cx="1128.3" cy="967.3" r="12.5" fill="#fff" stroke="#e8192e" stroke-width="1.6"/>
<circle cx="1142.9" cy="967.4" r="12.5" fill="#fff" stroke="#e8192e" stroke-width="1.6"/>
<circle cx="1157.5" cy="967.4" r="12.5" fill="#fff" stroke="#e8192e" stroke-width="1.6"/>
<circle cx="1172.1" cy="967.4" r="12.5" fill="#fff" stroke="#e8192e" stroke-width="1.6"/>
<circle cx="1186.7" cy="967.4" r="12.5" fill="#fff" stroke="#e8192e" stroke-width="1.6"/>
<circle cx="1201.3" cy="967.5" r="12.5" fill="#fff" stroke="#e8192e" stroke-width="1.6"/>
<circle cx="1216.0" cy="967.5" r="12.5" fill="#fff" stroke="#e8192e" stroke-width="1.6"/>
<circle cx="1230.6" cy="967.5" r="12.5" fill="#fff" stroke="#e8192e" stroke-width="1.6"/>
<circle cx="1245.2" cy="967.6" r="12.5" fill="#fff" stroke="#e8192e" stroke-width="1.6"/>
<circle cx="1259.8" cy="967.6" r="12.5" fill="#fff" stroke="#e8192e" stroke-width="1.6"/>
<circle cx="1274.4" cy="967.6" r="12.5" fill="#fff" stroke="#e8192e" stroke-width="1.6"/>
<circle cx="1289.0" cy="967.7" r="12.5" fill="#fff" stroke="#e8192e" stroke-width="1.6"/>
<circle cx="1303.6" cy="967.7" r="12.5" fill="#fff" stroke="#e8192e" stroke-width="1.6"/>
<circle cx="1318.3" cy="967.7" r="12.5" fill="#fff" stroke="#e8192e" stroke-width="1.6"/>
<circle cx="1332.9" cy="967.8" r="12.5" fill="#fff" stroke="#e8192e" stroke-width="1.6"/>
<circle cx="1347.5" cy="967.8" r="12.5" fill="#fff" stroke="#e8192e" stroke-width="1.6"/>
<circle cx="1362.1" cy="967.9" r="12.5" fill="#fff" stroke="#e8192e" stroke-width="1.6"/>
<circle cx="1376.7" cy="968.0" r="12.5" fill="#fff" stroke="#e8192e" stroke-width="1.6"/>
<circle cx="1391.3" cy="968.0" r="12.5" fill="#fff" stroke="#e8192e" stroke-width="1.6"/>
<circle cx="1406.0" cy="968.1" r="12.5" fill="#fff" stroke="#e8192e" stroke-width="1.6"/>
<circle cx="1420.6" cy="968.2" r="12.5" fill="#fff" stroke="#e8192e" stroke-width="1.6"/>
<circle cx="1435.2" cy="968.3" r="12.5" fill="#fff" stroke="#e8192e" stroke-width="1.6"/>
<circle cx="1449.8" cy="968.3" r="12.5" fill="#fff" stroke="#e8192e" stroke-width="1.6"/>
<circle cx="1464.4" cy="968.4" r="12.5" fill="#fff" stroke="#e8192e" stroke-width="1.6"/>
<circle cx="1479.0" cy="968.5" r="12.5" fill="#fff" stroke="#e8192e" stroke-width="1.6"/>
<circle cx="1493.7" cy="968.6" r="12.5" fill="#fff" stroke="#e8192e" stroke-width="1.6"/>
<circle cx="1508.3" cy="968.6" r="12.5" fill="#fff" stroke="#e8192e" stroke-width="1.6"/>
<circle cx="1522.9" cy="968.7" r="12.5" fill="#fff" stroke="#e8192e" stroke-width="1.6"/>
<circle cx="1537.5" cy="968.8" r="12.5" fill="#fff" stroke="#e8192e" stroke-width="1.6"/>
<circle cx="1552.1" cy="968.8" r="12.5" fill="#fff" stroke="#e8192e" stroke-width="1.6"/>
<circle cx="1566.7" cy="968.9" r="12.5" fill="#fff" stroke="#e8192e" stroke-width="1.6"/>
<circle cx="1581.4" cy="969.0" r="12.5" fill="#fff" stroke="#e8192e" stroke-width="1.6"/>
<circle cx="1596.0" cy="969.1" r="12.5" fill="#fff" stroke="#e8192e" stroke-width="1.6"/>
<circle cx="1610.6" cy="969.1" r="12.5" fill="#fff" stroke="#e8192e" stroke-width="1.6"/>
<circle cx="1625.2" cy="969.2" r="12.5" fill="#fff" stroke="#e8192e" stroke-width="1.6"/>
<circle cx="1639.8" cy="969.4" r="12.5" fill="#fff" stroke="#e8192e" stroke-width="1.6"/>
<circle cx="1654.4" cy="969.5" r="12.5" fill="#fff" stroke="#e8192e" stroke-width="1.6"/>
<circle cx="1669.0" cy="969.6" r="12.5" fill="#fff" stroke="#e8192e" stroke-width="1.6"/>
<circle cx="1683.7" cy="969.8" r="12.5" fill="#fff" stroke="#e8192e" stroke-width="1.6"/>
<circle cx="1698.3" cy="969.9" r="12.5" fill="#fff" stroke="#e8192e" stroke-width="1.6"/>
<circle cx="1712.9" cy="970.1" r="12.5" fill="#fff" stroke="#e8192e" stroke-width="1.6"/>
<circle cx="1727.5" cy="970.3" r="12.5" fill="#fff" stroke="#e8192e" stroke-width="1.6"/>
<circle cx="1742.1" cy="970.4" r="12.5" fill="#fff" stroke="#e8192e" stroke-width="1.6"/>
<circle cx="1756.7" cy="970.6" r="12.5" fill="#fff" stroke="#e8192e" stroke-width="1.6"/>
<circle cx="1771.4" cy="970.8" r="12.5" fill="#fff" stroke="#e8192e" stroke-width="1.6"/>
<circle cx="1786.0" cy="971.0" r="12.5" fill="#fff" stroke="#e8192e" stroke-width="1.6"/>
<circle cx="1800.6" cy="971.5" r="12.5" fill="#fff" stroke="#e8192e" stroke-width="1.6"/>
<circle cx="1815.2" cy="972.1" r="12.5" fill="#fff" stroke="#e8192e" stroke-width="1.6"/>
<circle cx="1829.8" cy="972.7" r="12.5" fill="#fff" stroke="#e8192e" stroke-width="1.6"/>
<circle cx="1844.4" cy="973.9" r="12.5" fill="#fff" stroke="#e8192e" stroke-width="1.6"/>
<circle cx="1859.1" cy="975.0" r="12.5" fill="#fff" stroke="#e8192e" stroke-width="1.6"/>
<circle cx="1873.7" cy="976.1" r="12.5" fill="#fff" stroke="#e8192e" stroke-width="1.6"/>
<circle cx="1888.3" cy="977.1" r="12.5" fill="#fff" stroke="#e8192e" stroke-width="1.6"/>
<circle cx="1902.9" cy="976.5" r="12.5" fill="#fff" stroke="#e8192e" stroke-width="1.6"/>
<circle cx="1917.5" cy="976.2" r="12.5" fill="#fff" stroke="#e8192e" stroke-width="1.6"/>
<circle cx="178.6" cy="1240.9" r="13.3" fill="url(#gg)"/>
<circle cx="192.3" cy="1293.8" r="13.3" fill="url(#gg)"/>
<circle cx="207.9" cy="1289.8" r="13.3" fill="url(#gg)"/>
<circle cx="222.4" cy="1315.4" r="13.3" fill="url(#gg)"/>
<circle cx="236.9" cy="1315.4" r="13.3" fill="url(#gg)"/>
<circle cx="252.1" cy="1333.6" r="13.3" fill="url(#gg)"/>
<circle cx="178.8" cy="1021.3" r="12.5" fill="#fff" stroke="#767a7d" stroke-width="1.6"/>
<circle cx="193.6" cy="1091.0" r="12.5" fill="#fff" stroke="#767a7d" stroke-width="1.6"/>
<circle cx="208.3" cy="1169.6" r="12.5" fill="#fff" stroke="#767a7d" stroke-width="1.6"/>
<circle cx="223.0" cy="1213.3" r="12.5" fill="#fff" stroke="#767a7d" stroke-width="1.6"/>
<circle cx="237.5" cy="1261.2" r="12.5" fill="#fff" stroke="#767a7d" stroke-width="1.6"/>
<circle cx="252.1" cy="1303.0" r="12.5" fill="#fff" stroke="#767a7d" stroke-width="1.6"/>
</g>
<rect x="163.6" y="908.1" width="1753.9" height="640.4" fill="none" stroke="#000" stroke-width="4.2"/>
<path d="M313.6 1116.6C288.2 1159.5 242.7 1183.3 194 1196.9" fill="none" stroke="#000" stroke-width="2.9"/>
<path d="M171.1 1201.1L194.9 1190.6L196.3 1202.3Z" fill="#000"/>
<path d="M1710.8 1001.6C1748.7 1040.8 1806.7 1043.9 1859 1047.9" fill="none" stroke="#000" stroke-width="2.9"/>
<path d="M1879.8 1048.5L1857.8 1043.0L1857.6 1054.2Z" fill="#000"/>
<circle cx="230.6" cy="1445.2" r="13.5" fill="url(#gg)"/>
<circle cx="230.6" cy="1499.2" r="13.5" fill="url(#gr)"/>
<text x="290.3" y="1459.5" font-size="42.3" text-anchor="start" fill="#000">PE</text>
<text x="290.4" y="1513.9" font-size="42.3" text-anchor="start" fill="#000" letter-spacing="0.3">AP-L-PEO</text>
<text x="1681.0" y="1526.8" font-size="34.0" text-anchor="start" fill="#000">0.5C 60&#176;C</text>
<text x="1041.0" y="1684.5" font-size="55.0" text-anchor="middle" fill="#000">Cycle number (N)</text>
<g transform="translate(59.5 1228.4) rotate(-90)">
<text x="0.0" y="0.0" font-size="55.0" text-anchor="middle" fill="#000">Specific capacity (mAh g<tspan dy="-23.6" font-size="37.4">-1</tspan><tspan dy="23.6">)</tspan></text>
</g>
<g transform="translate(2052.3 1228) rotate(-90)">
<text x="0.0" y="0.0" font-size="55.0" text-anchor="middle" fill="#000">Coulombic efficiency (%)</text>
</g>
<text x="15.5" y="881.5" font-size="43.0" text-anchor="start" fill="#000">(c)</text>
</svg></body></html>
